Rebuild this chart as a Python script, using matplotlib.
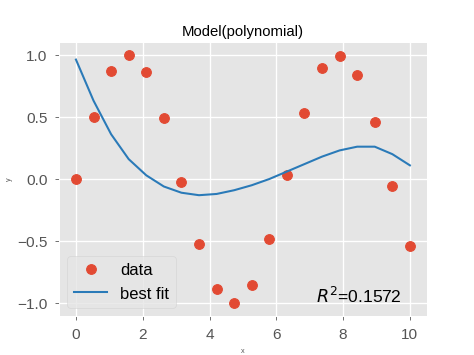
import numpy as np
import matplotlib.pyplot as plt

plt.style.use("ggplot")
plt.rcParams["font.family"] = ["Liberation Sans", "DejaVu Sans"]

x = [0.0, 0.526, 1.053, 1.579, 2.105, 2.632, 3.158, 3.684, 4.211, 4.737,
     5.263, 5.789, 6.316, 6.842, 7.368, 7.895, 8.421, 8.947, 9.474, 10.0]
y = [0.0, 0.50, 0.87, 1.00, 0.86, 0.49, -0.02, -0.52, -0.88, -1.00,
     -0.85, -0.48, 0.03, 0.53, 0.89, 0.99, 0.84, 0.46, -0.06, -0.54]
fit = [0.96, 0.63, 0.36, 0.16, 0.03, -0.06, -0.11, -0.13, -0.12, -0.09,
       -0.05, 0.00, 0.06, 0.12, 0.18, 0.23, 0.26, 0.26, 0.20, 0.11]
yticks = [-1.0, -0.5, 0.0, 0.5, 1.0]
r2 = 0.1572

fig, ax = plt.subplots(figsize=(6.4, 4.8), dpi=474 / 6.4)
ax.plot(x, y, "o", color="#E24A33", markersize=9.5, label="data")
ax.plot(x, fit, "-", color="#2A7AB8", linewidth=2, label="best fit")
ax.set_title("Model(polynomial)", fontsize=14.5)
ax.set_xlabel("x", fontsize=7, labelpad=6)
ax.set_ylabel("y", fontsize=7)
ax.set_yticks(yticks)
ax.grid(color="white", linewidth=1.3)
ax.tick_params(labelsize=15, colors="#555555", pad=8)
ax.text(0.7, 0.05, "$R^2$=%.4f" % r2, transform=ax.transAxes, fontsize=17)
ax.legend(loc="lower left", fontsize=16)
plt.savefig("out.png")
